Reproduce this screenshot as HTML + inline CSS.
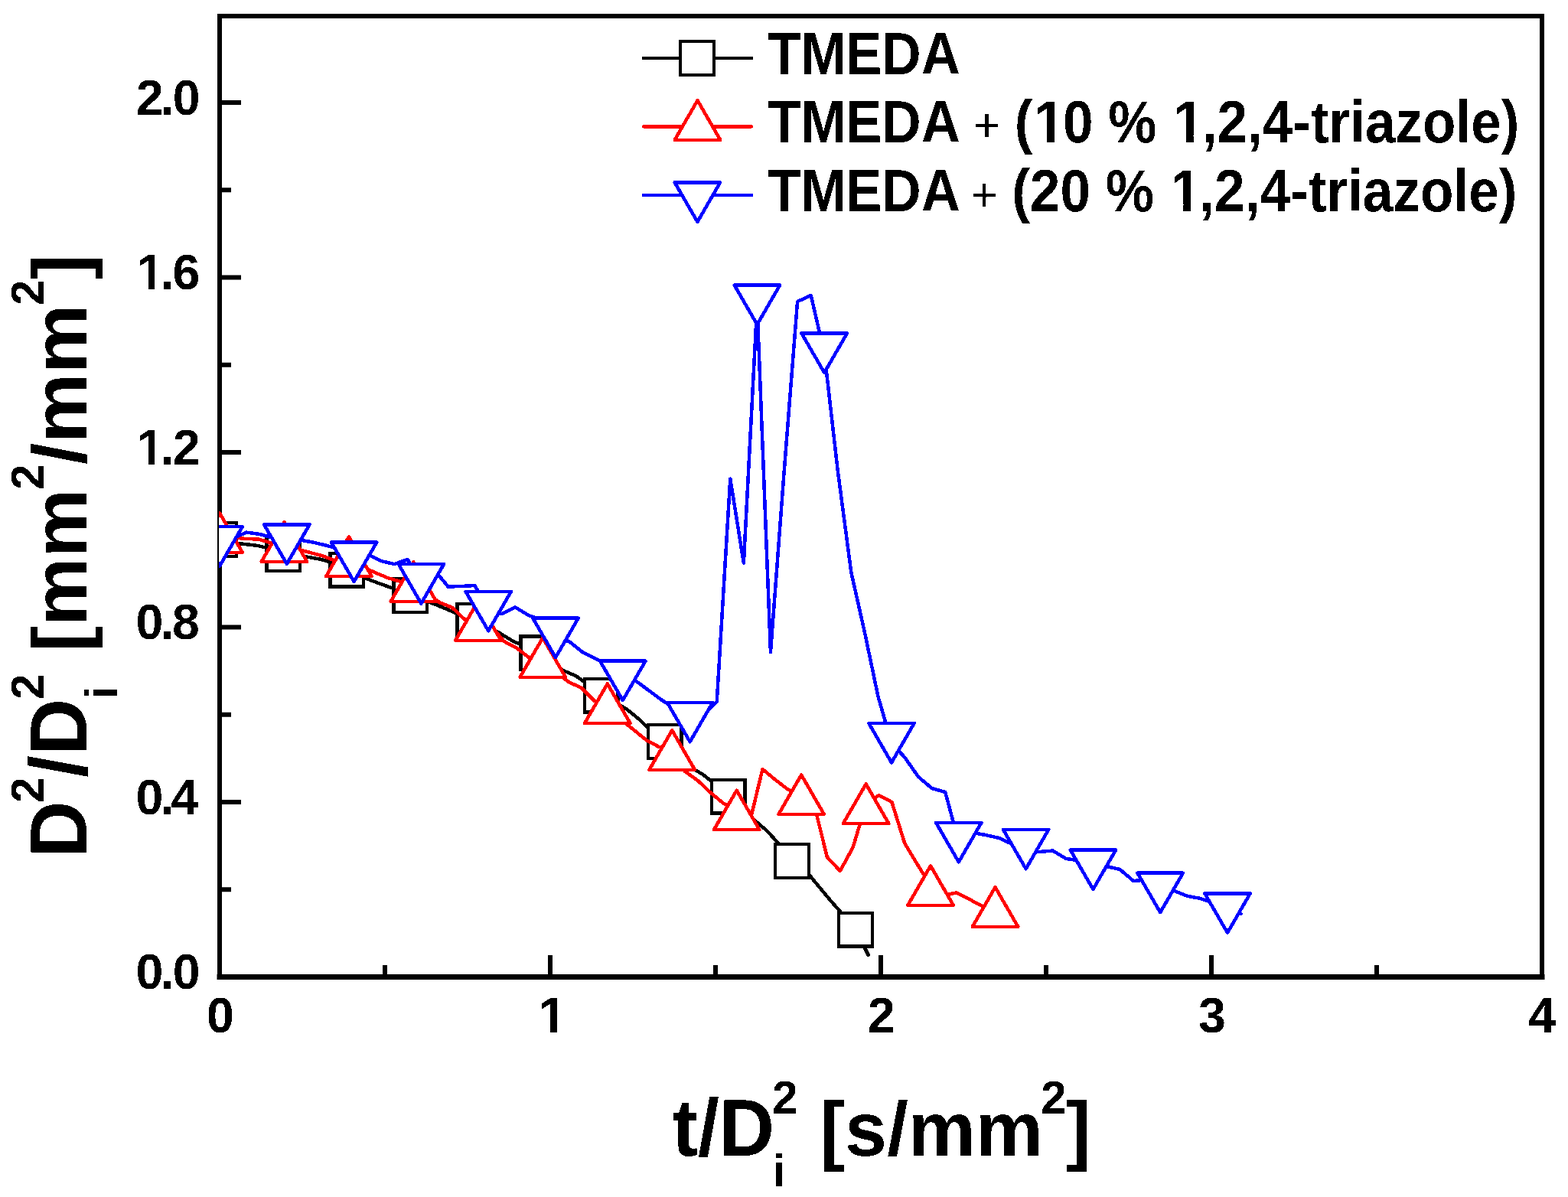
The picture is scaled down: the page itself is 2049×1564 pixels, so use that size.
<!DOCTYPE html>
<html><head><meta charset="utf-8"><title>D2/Di2 vs t/Di2</title>
<style>html,body{margin:0;padding:0;background:#fff;}body{width:2049px;height:1564px;overflow:hidden;}svg{display:block;}</style>
</head><body>
<svg width="2049" height="1564" viewBox="0 0 2049 1564">
<rect width="2049" height="1564" fill="#fff"/>
<defs><filter id="bin" x="0" y="0" width="1" height="1" filterUnits="objectBoundingBox"><feComponentTransfer><feFuncA type="discrete" tableValues="0 1"/></feComponentTransfer></filter></defs>
<defs><clipPath id="pa"><rect x="286" y="21" width="1729" height="1255.5"/></clipPath></defs>
<g stroke="#000" fill="none" stroke-linecap="square">
<line x1="287" y1="21" x2="2015" y2="21" stroke-width="6"/>
<line x1="2015" y1="21" x2="2015" y2="1276.5" stroke-width="6"/>
<line x1="287" y1="1276.5" x2="2015" y2="1276.5" stroke-width="7"/>
<line x1="287" y1="21" x2="287" y2="1276.5" stroke-width="6"/>
</g>
<g stroke="#000" stroke-width="6" fill="none">
<line x1="290" y1="1162.25" x2="302" y2="1162.25"/>
<line x1="290" y1="1048" x2="315" y2="1048"/>
<line x1="290" y1="933.75" x2="302" y2="933.75"/>
<line x1="290" y1="819.5" x2="315" y2="819.5"/>
<line x1="290" y1="705.25" x2="302" y2="705.25"/>
<line x1="290" y1="591" x2="315" y2="591"/>
<line x1="290" y1="476.75" x2="302" y2="476.75"/>
<line x1="290" y1="362.5" x2="315" y2="362.5"/>
<line x1="290" y1="248.25" x2="302" y2="248.25"/>
<line x1="290" y1="134" x2="315" y2="134"/>
<line x1="503" y1="1273" x2="503" y2="1261"/>
<line x1="719" y1="1273" x2="719" y2="1248"/>
<line x1="935" y1="1273" x2="935" y2="1261"/>
<line x1="1151" y1="1273" x2="1151" y2="1248"/>
<line x1="1367" y1="1273" x2="1367" y2="1261"/>
<line x1="1583" y1="1273" x2="1583" y2="1248"/>
<line x1="1799" y1="1273" x2="1799" y2="1261"/>
</g>
<g clip-path="url(#pa)" shape-rendering="crispEdges">
<polyline points="287,705 303.62,709 320.24,711 336.86,713 353.48,717 370.1,723.9 386.72,725.5 403.34,728 419.96,731 436.58,736 453.2,744.8 469.82,752.5 486.44,759 503.06,765 519.68,771 536.3,777.9 552.92,784 569.54,790 586.16,797 602.78,804 619.4,811 636.02,819 652.64,827 669.26,837 685.88,845 702.5,853.1 719.12,866 735.74,876 752.36,883 768.98,895 785.6,908.6 802.22,917 818.84,926.5 835.46,940 852.08,957 868.7,969 885.32,990 901.94,1002 918.56,1012 935.18,1025 951.8,1040.8 968.42,1056 985.04,1071 1001.66,1085 1018.28,1103 1034.9,1125 1051.52,1136 1068.14,1156 1084.76,1176 1101.38,1195 1118,1214.6 1134.62,1247.7" fill="none" stroke="#000" stroke-width="4.5" stroke-linejoin="round" stroke-linecap="round"/>
<rect x="265.15" y="683.15" width="43.7" height="43.7" fill="#fff" stroke="#000" stroke-width="4.5" stroke-linejoin="miter"/>
<rect x="348.25" y="702.05" width="43.7" height="43.7" fill="#fff" stroke="#000" stroke-width="4.5" stroke-linejoin="miter"/>
<rect x="431.35" y="722.95" width="43.7" height="43.7" fill="#fff" stroke="#000" stroke-width="4.5" stroke-linejoin="miter"/>
<rect x="514.45" y="756.05" width="43.7" height="43.7" fill="#fff" stroke="#000" stroke-width="4.5" stroke-linejoin="miter"/>
<rect x="597.55" y="789.15" width="43.7" height="43.7" fill="#fff" stroke="#000" stroke-width="4.5" stroke-linejoin="miter"/>
<rect x="680.65" y="831.25" width="43.7" height="43.7" fill="#fff" stroke="#000" stroke-width="4.5" stroke-linejoin="miter"/>
<rect x="763.75" y="886.75" width="43.7" height="43.7" fill="#fff" stroke="#000" stroke-width="4.5" stroke-linejoin="miter"/>
<rect x="846.85" y="947.15" width="43.7" height="43.7" fill="#fff" stroke="#000" stroke-width="4.5" stroke-linejoin="miter"/>
<rect x="929.95" y="1018.95" width="43.7" height="43.7" fill="#fff" stroke="#000" stroke-width="4.5" stroke-linejoin="miter"/>
<rect x="1013.05" y="1103.15" width="43.7" height="43.7" fill="#fff" stroke="#000" stroke-width="4.5" stroke-linejoin="miter"/>
<rect x="1096.15" y="1192.75" width="43.7" height="43.7" fill="#fff" stroke="#000" stroke-width="4.5" stroke-linejoin="miter"/>
<polyline points="287,696.01 303.89,702 320.78,704 337.68,704.5 354.57,709.5 371.46,708.01 388.35,717.5 405.24,722 422.14,726.5 439.03,733 455.92,727.11 472.81,740 489.7,748 506.6,755 523.49,760 540.38,760.11 557.27,775 574.16,787 591.06,794 607.95,810 624.84,811.01 641.73,818 658.62,838 675.52,847 692.41,860 709.3,859.01 726.19,878 743.08,891 759.98,899 776.87,916 793.76,919.21 810.65,940 827.54,953 844.44,967 861.33,976 878.22,980.01 895.11,1008 912,1020 928.9,1036 945.79,1050 962.68,1058.41 979.57,1075 996.46,1005 1013.36,1019 1030.25,1032 1047.14,1038.21 1064.03,1052 1080.92,1120 1097.82,1138 1114.71,1107 1131.6,1050.21 1148.49,1039 1165.38,1048 1182.28,1102 1199.17,1130 1216.06,1157.01 1232.95,1170 1249.84,1166.5 1266.74,1175 1283.63,1184 1300.52,1185.01" fill="none" stroke="#f00" stroke-width="4.5" stroke-linejoin="round" stroke-linecap="round"/>
<polygon points="287,670.25 316.75,721.78 257.25,721.78" fill="#fff" stroke="#f00" stroke-width="4.5" stroke-linejoin="round"/>
<polygon points="371.46,682.25 401.21,733.78 341.71,733.78" fill="#fff" stroke="#f00" stroke-width="4.5" stroke-linejoin="round"/>
<polygon points="455.92,701.35 485.67,752.88 426.17,752.88" fill="#fff" stroke="#f00" stroke-width="4.5" stroke-linejoin="round"/>
<polygon points="540.38,734.35 570.13,785.88 510.63,785.88" fill="#fff" stroke="#f00" stroke-width="4.5" stroke-linejoin="round"/>
<polygon points="624.84,785.25 654.59,836.78 595.09,836.78" fill="#fff" stroke="#f00" stroke-width="4.5" stroke-linejoin="round"/>
<polygon points="709.3,833.25 739.05,884.78 679.55,884.78" fill="#fff" stroke="#f00" stroke-width="4.5" stroke-linejoin="round"/>
<polygon points="793.76,893.45 823.51,944.98 764.01,944.98" fill="#fff" stroke="#f00" stroke-width="4.5" stroke-linejoin="round"/>
<polygon points="878.22,954.25 907.97,1005.78 848.47,1005.78" fill="#fff" stroke="#f00" stroke-width="4.5" stroke-linejoin="round"/>
<polygon points="962.68,1032.65 992.43,1084.18 932.93,1084.18" fill="#fff" stroke="#f00" stroke-width="4.5" stroke-linejoin="round"/>
<polygon points="1047.14,1012.45 1076.89,1063.98 1017.39,1063.98" fill="#fff" stroke="#f00" stroke-width="4.5" stroke-linejoin="round"/>
<polygon points="1131.6,1024.45 1161.35,1075.98 1101.85,1075.98" fill="#fff" stroke="#f00" stroke-width="4.5" stroke-linejoin="round"/>
<polygon points="1216.06,1131.25 1245.81,1182.78 1186.31,1182.78" fill="#fff" stroke="#f00" stroke-width="4.5" stroke-linejoin="round"/>
<polygon points="1300.52,1159.25 1330.27,1210.78 1270.77,1210.78" fill="#fff" stroke="#f00" stroke-width="4.5" stroke-linejoin="round"/>
<polyline points="287,713.91 304.56,703 322.12,695.6 339.68,698 357.24,703 374.8,711.11 392.36,705.5 409.92,708.8 427.48,713 445.04,718 462.6,734.21 480.16,724 497.72,733 515.28,737 532.84,731 550.4,762.71 567.96,745 585.52,766.5 603.08,766 620.64,765 638.2,798.51 655.76,802 673.32,793.5 690.88,804 708.44,810 726,833.31 743.56,838 761.12,852 778.68,861 796.24,868 813.8,889.31 831.36,890 848.92,903 866.48,916 884.04,925 901.6,943.51 919.16,933 936.72,917 954.28,625.6 971.84,735.6 989.4,398.31 1006.96,852 1024.52,618 1042.08,394.1 1059.64,385.8 1077.2,461.21 1094.76,615 1112.32,748 1129.88,826 1147.44,910 1165,970.61 1182.56,990 1200.12,1015 1217.68,1030 1235.24,1035 1252.8,1100.51 1270.36,1088 1287.92,1091 1305.48,1095 1323.04,1103 1340.6,1109.51 1358.16,1113 1375.72,1111.5 1393.28,1122 1410.84,1124.5 1428.4,1136.21 1445.96,1132 1463.52,1136 1481.08,1151 1498.64,1149.5 1516.2,1166.41 1533.76,1163.7 1551.32,1170.7 1568.88,1174 1586.44,1180 1604,1193.01 1621.56,1194.2" fill="none" stroke="#00f" stroke-width="4.5" stroke-linejoin="round" stroke-linecap="round"/>
<polygon points="257.25,688.15 316.75,688.15 287,739.68" fill="#fff" stroke="#00f" stroke-width="4.5" stroke-linejoin="round"/>
<polygon points="345.05,685.35 404.55,685.35 374.8,736.88" fill="#fff" stroke="#00f" stroke-width="4.5" stroke-linejoin="round"/>
<polygon points="432.85,708.45 492.35,708.45 462.6,759.98" fill="#fff" stroke="#00f" stroke-width="4.5" stroke-linejoin="round"/>
<polygon points="520.65,736.95 580.15,736.95 550.4,788.48" fill="#fff" stroke="#00f" stroke-width="4.5" stroke-linejoin="round"/>
<polygon points="608.45,772.75 667.95,772.75 638.2,824.28" fill="#fff" stroke="#00f" stroke-width="4.5" stroke-linejoin="round"/>
<polygon points="696.25,807.55 755.75,807.55 726,859.08" fill="#fff" stroke="#00f" stroke-width="4.5" stroke-linejoin="round"/>
<polygon points="784.05,863.55 843.55,863.55 813.8,915.08" fill="#fff" stroke="#00f" stroke-width="4.5" stroke-linejoin="round"/>
<polygon points="871.85,917.75 931.35,917.75 901.6,969.28" fill="#fff" stroke="#00f" stroke-width="4.5" stroke-linejoin="round"/>
<polygon points="959.65,372.55 1019.15,372.55 989.4,424.08" fill="#fff" stroke="#00f" stroke-width="4.5" stroke-linejoin="round"/>
<polygon points="1047.45,435.45 1106.95,435.45 1077.2,486.98" fill="#fff" stroke="#00f" stroke-width="4.5" stroke-linejoin="round"/>
<polygon points="1135.25,944.85 1194.75,944.85 1165,996.38" fill="#fff" stroke="#00f" stroke-width="4.5" stroke-linejoin="round"/>
<polygon points="1223.05,1074.75 1282.55,1074.75 1252.8,1126.28" fill="#fff" stroke="#00f" stroke-width="4.5" stroke-linejoin="round"/>
<polygon points="1310.85,1083.75 1370.35,1083.75 1340.6,1135.28" fill="#fff" stroke="#00f" stroke-width="4.5" stroke-linejoin="round"/>
<polygon points="1398.65,1110.45 1458.15,1110.45 1428.4,1161.98" fill="#fff" stroke="#00f" stroke-width="4.5" stroke-linejoin="round"/>
<polygon points="1486.45,1140.65 1545.95,1140.65 1516.2,1192.18" fill="#fff" stroke="#00f" stroke-width="4.5" stroke-linejoin="round"/>
<polygon points="1574.25,1167.25 1633.75,1167.25 1604,1218.78" fill="#fff" stroke="#00f" stroke-width="4.5" stroke-linejoin="round"/>
</g>
<g font-family="'Liberation Sans', Arial, Helvetica, sans-serif" fill="#000" filter="url(#bin)">
<g transform="translate(0 1292.3)">
<text x="177.449 209.622 225.774" y="0" font-size="64.5" font-weight="bold">0.0</text>
</g>
<g transform="translate(0 1063.8)">
<text x="177.449 209.622 223.475" y="0" font-size="64.5" font-weight="bold">0.4</text>
</g>
<g transform="translate(0 835.3)">
<text x="177.449 209.622 225.112" y="0" font-size="64.5" font-weight="bold">0.8</text>
</g>
<g transform="translate(0 606.8)">
<clipPath id="c1_1" clipPathUnits="userSpaceOnUse"><rect x="-10000" y="-10000" width="20000" height="9992.418"/><rect x="-10000" y="-7.582" width="10181.294" height="10000"/><rect x="193.545" y="-7.582" width="8.85" height="10000"/><rect x="213.827" y="-7.582" width="9786.173" height="10000"/></clipPath>
<text x="178.491 209.622 225.711" y="0" font-size="64.5" font-weight="bold" clip-path="url(#c1_1)">1.2</text>
</g>
<g transform="translate(0 378.3)">
<clipPath id="c1_2" clipPathUnits="userSpaceOnUse"><rect x="-10000" y="-10000" width="20000" height="9992.418"/><rect x="-10000" y="-7.582" width="10181.294" height="10000"/><rect x="193.545" y="-7.582" width="8.85" height="10000"/><rect x="213.827" y="-7.582" width="9786.173" height="10000"/></clipPath>
<text x="178.491 209.622 225.459" y="0" font-size="64.5" font-weight="bold" clip-path="url(#c1_2)">1.6</text>
</g>
<g transform="translate(0 149.8)">
<text x="177.764 209.622 225.774" y="0" font-size="64.5" font-weight="bold">2.0</text>
</g>
<g transform="translate(0 1349)">
<text x="270.111" y="0" font-size="64.5" font-weight="bold">0</text>
</g>
<g transform="translate(0 1349)">
<clipPath id="c1_3" clipPathUnits="userSpaceOnUse"><rect x="-10000" y="-10000" width="20000" height="9992.418"/><rect x="-10000" y="-7.582" width="10706.646" height="10000"/><rect x="718.898" y="-7.582" width="8.85" height="10000"/><rect x="739.18" y="-7.582" width="9260.82" height="10000"/></clipPath>
<text x="703.843" y="0" font-size="64.5" font-weight="bold" clip-path="url(#c1_3)">1</text>
</g>
<g transform="translate(0 1349)">
<text x="1133.737" y="0" font-size="64.5" font-weight="bold">2</text>
</g>
<g transform="translate(0 1349)">
<text x="1565.989" y="0" font-size="64.5" font-weight="bold">3</text>
</g>
<g transform="translate(0 1349)">
<text x="1997.249" y="0" font-size="64.5" font-weight="bold">4</text>
</g>
<text x="878.58" y="1510" font-size="106" font-weight="bold" textLength="133.53" lengthAdjust="spacingAndGlyphs">t/D</text>
<text x="1008.91" y="1455" font-size="61.6" font-weight="bold" textLength="33.5" lengthAdjust="spacingAndGlyphs">2</text>
<text x="1009.48" y="1550" font-size="60" font-weight="bold" textLength="16.81" lengthAdjust="spacingAndGlyphs">i</text>
<g transform="translate(1071.139 1510) scale(0.934 0.943)">
<text x="0 35.299 94.251 123.701 217.952" y="0" font-size="106" font-weight="bold">[s/mm</text>
</g>
<text x="1360.23" y="1455" font-size="61.6" font-weight="bold" textLength="33.27" lengthAdjust="spacingAndGlyphs">2</text>
<g transform="translate(1392.801 1510) scale(0.927 0.937)">
<text x="0" y="0" font-size="106" font-weight="bold">]</text>
</g>
<g transform="rotate(-90)">
<text x="-1120.45" y="113" font-size="106" font-weight="bold" textLength="73.95" lengthAdjust="spacingAndGlyphs">D</text>
<text x="-1048.99" y="57" font-size="61.6" font-weight="bold" textLength="33.5" lengthAdjust="spacingAndGlyphs">2</text>
<text x="-1015.71" y="113" font-size="106" font-weight="bold" textLength="102.93" lengthAdjust="spacingAndGlyphs">/D</text>
<text x="-913.87" y="57" font-size="61.6" font-weight="bold" textLength="33.15" lengthAdjust="spacingAndGlyphs">2</text>
<text x="-912.62" y="153" font-size="60" font-weight="bold" textLength="15.59" lengthAdjust="spacingAndGlyphs">i</text>
<g transform="translate(-851.554 113) scale(0.95 0.943)">
<text x="0 35.299 129.55" y="0" font-size="106" font-weight="bold">[mm</text>
</g>
<text x="-639.67" y="57" font-size="61.6" font-weight="bold" textLength="33.15" lengthAdjust="spacingAndGlyphs">2</text>
<g transform="translate(-606.996 113) scale(0.962 0.945)">
<text x="0 29.45 123.701" y="0" font-size="106" font-weight="bold">/mm</text>
</g>
<text x="-398.66" y="57" font-size="61.6" font-weight="bold" textLength="33.04" lengthAdjust="spacingAndGlyphs">2</text>
<g transform="translate(-364.995 113) scale(0.923 0.937)">
<text x="0" y="0" font-size="106" font-weight="bold">]</text>
</g>
</g>
<g shape-rendering="crispEdges">
<g fill="none" stroke-width="4.5" stroke-linecap="round">
<line x1="841" y1="76" x2="982" y2="76" stroke="#000"/>
<line x1="841" y1="165.3" x2="982" y2="165.3" stroke="#f00"/>
<line x1="841" y1="255.1" x2="982" y2="255.1" stroke="#00f"/>
</g>
<rect x="889.15" y="54.15" width="43.7" height="43.7" fill="#fff" stroke="#000" stroke-width="4.5" stroke-linejoin="miter"/>
<polygon points="911.5,131.25 941.25,182.78 881.75,182.78" fill="#fff" stroke="#f00" stroke-width="4.5" stroke-linejoin="round"/>
<polygon points="881.65,238.35 941.15,238.35 911.4,289.88" fill="#fff" stroke="#00f" stroke-width="4.5" stroke-linejoin="round"/>
</g>
<g transform="translate(1003.205 96.9) scale(0.919 1)">
<text x="0 47.035 111.176 162.535 218.142" y="0" font-size="77" font-weight="bold">TMEDA</text>
</g>
<g transform="translate(1003.205 186.2) scale(0.919 1)">
<text x="0 47.035 111.176 162.535 218.142" y="0" font-size="77" font-weight="bold">TMEDA</text>
</g>
<text x="1272.09" y="184" font-size="62" font-weight="normal" textLength="34.86" lengthAdjust="spacingAndGlyphs">+</text>
<g transform="translate(1325.761 185.8) scale(0.923 1)">
<clipPath id="c1_4" clipPathUnits="userSpaceOnUse"><rect x="-10000" y="-10000" width="20000" height="9991.142"/><rect x="-10000" y="-8.858" width="10031.244" height="10000"/><rect x="45.869" y="-8.858" width="10.565" height="10000"/><rect x="70.082" y="-8.858" width="158.061" height="10000"/><rect x="242.768" y="-8.858" width="10.565" height="10000"/><rect x="266.981" y="-8.858" width="9733.019" height="10000"/></clipPath>
<text x="0 27.897 68.465 111.289 132.682 201.147 224.796 265.364 286.757 329.581 350.974 393.798 419.439 445.081 475.046 496.439 539.263 577.763 624.798 646.191 689.015" y="0" font-size="77" font-weight="bold" clip-path="url(#c1_4)">(10 % 1,2,4-triazole)</text>
</g>
<g transform="translate(1003.205 276) scale(0.919 1)">
<text x="0 47.035 111.176 162.535 218.142" y="0" font-size="77" font-weight="bold">TMEDA</text>
</g>
<text x="1269" y="274.5" font-size="62" font-weight="normal" textLength="34.74" lengthAdjust="spacingAndGlyphs">+</text>
<g transform="translate(1322.157 275.9) scale(0.924 1)">
<clipPath id="c1_5" clipPathUnits="userSpaceOnUse"><rect x="-10000" y="-10000" width="20000" height="9991.142"/><rect x="-10000" y="-8.858" width="10228.143" height="10000"/><rect x="242.768" y="-8.858" width="10.565" height="10000"/><rect x="266.981" y="-8.858" width="9733.019" height="10000"/></clipPath>
<text x="0 25.642 68.465 111.289 132.682 201.147 224.796 265.364 286.757 329.581 350.974 393.798 419.439 445.081 475.046 496.439 539.263 577.763 624.798 646.191 689.015" y="0" font-size="77" font-weight="bold" clip-path="url(#c1_5)">(20 % 1,2,4-triazole)</text>
</g>
</g>
</svg>
</body></html>
